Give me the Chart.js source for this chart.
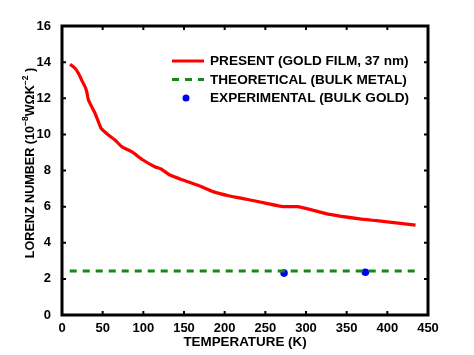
<!DOCTYPE html>
<html><head><meta charset="utf-8">
<script src="https://cdn.jsdelivr.net/npm/chart.js@4.4.1/dist/chart.umd.min.js"></script>
<style>html,body{margin:0;padding:0;background:#fff}#wrap{width:474px;height:355px}</style>
</head><body><div id="wrap"><canvas id="c" width="474" height="355"></canvas></div>
<script>
const presentT = [9.9,16,20.2,25.1,28.3,30.4,32.5,36.5,40.6,43.9,48,57,65.2,73.4,85.7,99.6,114,122.3,132.5,148.8,169.4,185.7,206,226.8,251.4,271.8,290,304.6,329,366,386.7,434.7];
const presentL = [13.88,13.66,13.38,12.92,12.64,12.36,11.9,11.53,11.17,10.8,10.34,9.97,9.69,9.32,9.04,8.58,8.21,8.07,7.75,7.47,7.14,6.83,6.59,6.41,6.18,6.0,6.0,5.85,5.57,5.32,5.22,4.98];
const theoT = [9.5,435];
const theoL = [2.44,2.44];
const expT = [273,373];
const expL = [2.32,2.37];
const xTicks = [0,50,100,150,200,250,300,350,400,450];
const yTicks = [0,2,4,6,8,10,12,14,16];
const labels = ['PRESENT (GOLD FILM, 37 nm)','THEORETICAL (BULK METAL)','EXPERIMENTAL (BULK GOLD)'];

const FONT = '"Liberation Sans", Arial, sans-serif';
const toXY = (xs, ys) => xs.map((x,i)=>({x, y: ys[i]}));

const frame = {
  id:'frame',
  afterDraw(chart){
    const {ctx, chartArea:a, scales:{x,y}} = chart;
    ctx.save();
    ctx.strokeStyle='#000'; ctx.lineWidth=3;
    ctx.strokeRect(a.left, a.top, a.right-a.left, a.bottom-a.top);
    ctx.lineWidth=2;
    const L=4;
    xTicks.forEach(v=>{const px=x.getPixelForValue(v);
      ctx.beginPath();ctx.moveTo(px,a.bottom);ctx.lineTo(px,a.bottom-L);ctx.moveTo(px,a.top);ctx.lineTo(px,a.top+L);ctx.stroke();});
    yTicks.forEach(v=>{const py=y.getPixelForValue(v);
      ctx.beginPath();ctx.moveTo(a.left,py);ctx.lineTo(a.left+L,py);ctx.moveTo(a.right,py);ctx.lineTo(a.right-L,py);ctx.stroke();});
    // legend
    const ds = chart.data.datasets;
    const lx0=172, lx1=204, tx=210, rows=[61,79.5,98];
    ctx.font='bold 13.6px '+FONT; ctx.textBaseline='middle'; ctx.textAlign='left';
    ds.forEach((d,i)=>{
      const ry=rows[i];
      if(i<2){ctx.strokeStyle=d.borderColor;ctx.lineWidth=3;ctx.setLineDash(d.borderDash||[]);
        ctx.beginPath();ctx.moveTo(lx0,ry);ctx.lineTo(lx1,ry);ctx.stroke();ctx.setLineDash([]);}
      else{ctx.fillStyle=d.backgroundColor;ctx.beginPath();ctx.arc((lx0+lx1)/2-2,ry,3.5,0,Math.PI*2);ctx.fill();}
      ctx.fillStyle='#000'; ctx.fillText(d.label, tx, ry+0.5);
    });
    // y title with superscripts
    ctx.save();
    ctx.translate(31, 163); ctx.rotate(-Math.PI/2);
    const parts=[['LORENZ NUMBER (10',0],['−8',1],['WΩK',0],['−2',1],[' )',0]];
    const big='bold 12.6px '+FONT, small='bold 8.5px '+FONT;
    let w=0; parts.forEach(p=>{ctx.font=p[1]?small:big; w+=ctx.measureText(p[0]).width;});
    let cx=-w/2; ctx.textAlign='left'; ctx.textBaseline='middle'; ctx.fillStyle='#000';
    parts.forEach(p=>{ctx.font=p[1]?small:big; ctx.fillText(p[0],cx,p[1]?-5:0); cx+=ctx.measureText(p[0]).width;});
    ctx.restore();
    ctx.restore();
  }
};

new Chart(document.getElementById('c'), {
  type:'scatter',
  data:{datasets:[
    {label:labels[0], data:toXY(presentT,presentL), showLine:true, borderColor:'#ff0000', borderWidth:3.2, pointRadius:0, tension:0.15, fill:false},
    {label:labels[1], data:toXY(theoT,theoL), showLine:true, borderColor:'#138a13', borderWidth:3, borderDash:[7,6], pointRadius:0, fill:false},
    {label:labels[2], data:toXY(expT,expL), showLine:false, backgroundColor:'#0000ff', borderColor:'#0000ff', pointRadius:3.8, borderWidth:0}
  ]},
  options:{
    responsive:false, animation:false, devicePixelRatio:1,
    layout:{padding:{top:26,right:46,left:0,bottom:5}},
    plugins:{legend:{display:false}, tooltip:{enabled:false}},
    scales:{
      x:{type:'linear', min:0, max:450,
        afterBuildTicks:s=>{s.ticks=xTicks.map(v=>({value:v}));},
        afterFit:s=>{s.height=35;},
        grid:{display:false}, border:{display:false},
        ticks:{color:'#000', font:{family:FONT, weight:'bold', size:13}, padding:-2, maxRotation:0},
        title:{display:true, text:'TEMPERATURE (K)', color:'#000', font:{family:FONT, weight:'bold', size:13.4}, padding:{top:0,bottom:0}}
      },
      y:{type:'linear', min:0, max:16,
        afterBuildTicks:s=>{s.ticks=yTicks.map(v=>({value:v}));},
        afterFit:s=>{s.width=62;},
        grid:{display:false}, border:{display:false},
        ticks:{color:'#000', font:{family:FONT, weight:'bold', size:13}, padding:3},
        title:{display:false}
      }
    }
  },
  plugins:[frame]
});
</script></body></html>
